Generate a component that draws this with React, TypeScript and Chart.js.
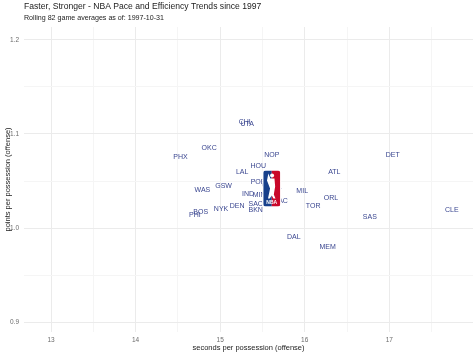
import React, { useEffect, useRef } from 'react';
import { Chart, registerables } from 'chart.js';

Chart.register(...registerables);

const chartTitle = 'Faster, Stronger - NBA Pace and Efficiency Trends since 1997';
const chartSubtitle = 'Rolling 82 game averages as of: 1997-10-31';
const xAxisTitle = 'seconds per possession (offense)';
const yAxisTitle = 'points per possession (offense)';

const teams = ['CHI', 'UTA', 'OKC', 'PHX', 'NOP', 'HOU', 'LAL', 'POR', 'WAS', 'GSW', 'IND', 'MIN', 'CHA', 'MIA', 'SAC', 'BKN', 'LAC', 'DEN', 'NYK', 'BOS', 'PHI', 'TOR', 'MIL', 'DAL', 'ATL', 'DET', 'ORL', 'SAS', 'CLE', 'MEM'];
const secondsPerPossession = [15.29, 15.32, 14.87, 14.53, 15.61, 15.45, 15.26, 15.45, 14.79, 15.04, 15.33, 15.46, 15.58, 15.65, 15.42, 15.42, 15.72, 15.2, 15.01, 14.77, 14.7, 16.1, 15.97, 15.87, 16.35, 17.04, 16.31, 16.77, 17.74, 16.27];
const pointsPerPossession = [1.113, 1.111, 1.085, 1.075, 1.078, 1.066, 1.06, 1.049, 1.04, 1.045, 1.036, 1.035, 1.046, 1.044, 1.025, 1.019, 1.029, 1.023, 1.02, 1.017, 1.014, 1.023, 1.039, 0.99, 1.06, 1.078, 1.032, 1.012, 1.019, 0.98];

const leagueAverage = { x: 15.61, y: 1.042 };

const xMajorTicks = [13, 14, 15, 16, 17];
const xMinorTicks = [13.5, 14.5, 15.5, 16.5, 17.5];
const yMajorTicks = [0.9, 1.0, 1.1, 1.2];
const yMinorTicks = [0.95, 1.05, 1.15];

const FONT = "'Liberation Sans', Arial, sans-serif";
const LABEL_COLOR = '#3a4690';

const isMajor = (v: number, majors: number[]) => majors.some((m) => Math.abs(m - v) < 1e-6);

const titlePlugin = {
  id: 'titles',
  afterDraw(chart: any) {
    const { ctx, chartArea } = chart;
    ctx.save();
    ctx.fillStyle = '#222';
    ctx.textAlign = 'left';
    ctx.textBaseline = 'middle';
    ctx.font = `8.6px ${FONT}`;
    ctx.fillText(chartTitle, chartArea.left, 7);
    ctx.font = `7.1px ${FONT}`;
    ctx.fillText(chartSubtitle, chartArea.left, 18);
    ctx.restore();
  },
};

const labelPlugin = {
  id: 'teamLabels',
  afterDatasetsDraw(chart: any) {
    const { ctx } = chart;
    const meta = chart.getDatasetMeta(0);
    ctx.save();
    ctx.font = `7px ${FONT}`;
    ctx.fillStyle = LABEL_COLOR;
    ctx.textAlign = 'center';
    ctx.textBaseline = 'middle';
    meta.data.forEach((el: any, i: number) => {
      ctx.fillText(teams[i], el.x, el.y);
    });
    ctx.restore();
  },
};

const logoPlugin = {
  id: 'nbaLogo',
  afterDatasetsDraw(chart: any) {
    const { ctx, scales } = chart;
    const cx = scales.x.getPixelForValue(leagueAverage.x);
    const cy = scales.y.getPixelForValue(leagueAverage.y);
    const w = 17;
    const h = 36;
    const x0 = cx - w / 2;
    const y0 = cy - h / 2;
    ctx.save();
    ctx.fillStyle = '#ffffff';
    ctx.beginPath();
    ctx.roundRect(x0 - 1, y0 - 1, w + 2, h + 2, 3);
    ctx.fill();
    ctx.beginPath();
    ctx.roundRect(x0, y0, w, h, 2.5);
    ctx.clip();
    ctx.fillStyle = '#17408b';
    ctx.fillRect(x0, y0, w * 0.5, h);
    ctx.fillStyle = '#c9082a';
    ctx.fillRect(x0 + w * 0.5, y0, w * 0.5, h);
    ctx.fillStyle = '#ffffff';
    ctx.beginPath();
    ctx.arc(x0 + w * 0.52, y0 + 5, 2, 0, Math.PI * 2);
    ctx.fill();
    ctx.beginPath();
    ctx.moveTo(x0 + w * 0.42, y0 + 8);
    ctx.lineTo(x0 + w * 0.66, y0 + 8);
    ctx.lineTo(x0 + w * 0.7, y0 + 16);
    ctx.lineTo(x0 + w * 0.62, y0 + 24);
    ctx.lineTo(x0 + w * 0.72, y0 + h - 8);
    ctx.lineTo(x0 + w * 0.6, y0 + h - 8);
    ctx.lineTo(x0 + w * 0.5, y0 + 25);
    ctx.lineTo(x0 + w * 0.38, y0 + h - 8);
    ctx.lineTo(x0 + w * 0.28, y0 + h - 8);
    ctx.lineTo(x0 + w * 0.4, y0 + 18);
    ctx.lineTo(x0 + w * 0.22, y0 + 10);
    ctx.lineTo(x0 + w * 0.3, y0 + 3);
    ctx.lineTo(x0 + w * 0.42, y0 + 8);
    ctx.fill();
    ctx.font = `bold 5px ${FONT}`;
    ctx.textAlign = 'center';
    ctx.textBaseline = 'middle';
    ctx.fillText('NBA', cx, y0 + h - 4);
    ctx.restore();
  },
};

export default function App() {
  const canvasRef = useRef<HTMLCanvasElement | null>(null);

  useEffect(() => {
    if (!canvasRef.current) return;
    const points = teams.map((_, i) => ({ x: secondsPerPossession[i], y: pointsPerPossession[i] }));
    const chart = new Chart(canvasRef.current, {
      type: 'scatter',
      data: {
        datasets: [
          {
            data: points,
            pointRadius: 0,
            pointHoverRadius: 0,
            showLine: false,
          },
        ],
      },
      options: {
        responsive: false,
        animation: false,
        events: [],
        layout: { padding: { top: 27, right: 1, left: 0, bottom: 0 } },
        plugins: {
          legend: { display: false },
          tooltip: { enabled: false },
          title: { display: false },
        },
        scales: {
          x: {
            type: 'linear',
            min: 12.68,
            max: 17.99,
            afterBuildTicks: (scale: any) => {
              scale.ticks = [...xMajorTicks, ...xMinorTicks].sort((a, b) => a - b).map((v) => ({ value: v }));
            },
            afterFit: (scale: any) => {
              scale.height = 23;
            },
            border: { display: false },
            grid: {
              drawTicks: false,
              color: (ctx: any) => (isMajor(ctx.tick?.value, xMajorTicks) ? '#ebebeb' : '#f5f5f5'),
              lineWidth: 1,
            },
            ticks: {
              autoSkip: false,
              maxRotation: 0,
              padding: 4,
              color: '#6b6b6b',
              font: { family: FONT, size: 6.5 },
              callback: (v: any) => (isMajor(Number(v), xMajorTicks) ? String(v) : ''),
            },
            title: {
              display: true,
              text: xAxisTitle,
              color: '#222',
              font: { family: FONT, size: 7.5 },
              padding: { top: 0, bottom: 3 },
            },
          },
          y: {
            type: 'linear',
            min: 0.8894,
            max: 1.2138,
            afterBuildTicks: (scale: any) => {
              scale.ticks = [...yMajorTicks, ...yMinorTicks].sort((a, b) => a - b).map((v) => ({ value: v }));
            },
            afterFit: (scale: any) => {
              scale.width = 24;
            },
            border: { display: false },
            grid: {
              drawTicks: false,
              color: (ctx: any) => (isMajor(ctx.tick?.value, yMajorTicks) ? '#ebebeb' : '#f5f5f5'),
              lineWidth: 1,
            },
            ticks: {
              autoSkip: false,
              padding: 5,
              color: '#6b6b6b',
              font: { family: FONT, size: 6.5 },
              callback: (v: any) => (isMajor(Number(v), yMajorTicks) ? Number(v).toFixed(1) : ''),
            },
            title: {
              display: true,
              text: yAxisTitle,
              color: '#222',
              font: { family: FONT, size: 7.5 },
              padding: { top: 3, bottom: 0 },
            },
          },
        },
      },
      plugins: [titlePlugin, labelPlugin, logoPlugin],
    } as any);
    return () => chart.destroy();
  }, []);

  return (
    <div style={{ position: 'fixed', left: 0, top: 0, width: 474, height: 355, background: '#fff' }}>
      <canvas ref={canvasRef} width={474} height={355} style={{ display: 'block' }} />
    </div>
  );
}
